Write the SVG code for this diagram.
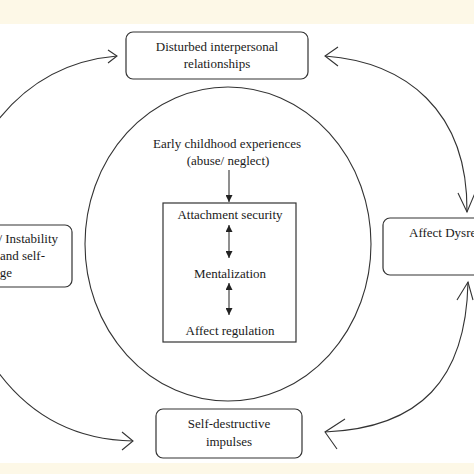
<svg xmlns="http://www.w3.org/2000/svg" width="474" height="474" viewBox="0 0 474 474">
<defs>
<style>
.bg{fill:#ffffff}
.band{fill:#fdf8e7}
.box{fill:#ffffff;stroke:#333333;stroke-width:1.2}
.ln{fill:none;stroke:#333333;stroke-width:1.1}
.t{font-family:"Liberation Serif","Times New Roman",serif;font-size:13px;fill:#1a1a1a}
.c{text-anchor:middle}
</style>
<marker id="fa" viewBox="0 0 10 10" refX="10" refY="5" markerWidth="7" markerHeight="7" markerUnits="userSpaceOnUse" orient="auto-start-reverse">
<path d="M0,0 L10,5 L0,10 Z" fill="#222222"/>
</marker>
</defs>
<rect class="bg" x="0" y="0" width="474" height="474"/>
<rect class="band" x="0" y="0" width="474" height="24"/>
<rect class="band" x="0" y="463" width="474" height="11"/>

<g id="circle">
<ellipse class="ln" cx="228" cy="244" rx="143" ry="157"/>
</g>

<g id="node-relationships">
<rect class="box" x="126" y="32" width="182" height="47" rx="7"/>
<text class="t c" x="217" y="51">Disturbed interpersonal</text>
<text class="t c" x="217" y="68">relationships</text>
</g>

<g id="node-affect-dysregulation">
<rect class="box" x="383" y="218" width="110" height="57" rx="7"/>
<text class="t" x="409" y="237">Affect Dysregulation</text>
</g>

<g id="node-identity">
<rect class="box" x="-40" y="225" width="112" height="62" rx="7"/>
<text class="t" x="58" y="243" text-anchor="end">Identity/ Instability</text>
<text class="t" x="45" y="260" text-anchor="end">and self-</text>
<text class="t" x="12" y="277" text-anchor="end">image</text>
</g>

<g id="node-self-destructive">
<rect class="box" x="156" y="409" width="146" height="49" rx="7"/>
<text class="t c" x="229" y="428">Self-destructive</text>
<text class="t c" x="229" y="446">impulses</text>
</g>

<g id="node-early-childhood">
<text class="t c" x="227" y="148">Early childhood experiences</text>
<text class="t c" x="228" y="165">(abuse/ neglect)</text>
</g>

<g id="node-core">
<rect class="box" x="163" y="203" width="133" height="139"/>
<text class="t c" x="230" y="219">Attachment security</text>
<text class="t c" x="230" y="278">Mentalization</text>
<text class="t c" x="230" y="335">Affect regulation</text>
</g>

<g id="connectors">
<path class="ln" d="M-2,120 C30,80 70,60 117,56"/>
<path class="ln" d="M108,50 L117,56 L108,63"/>
<path class="ln" d="M325,56 C405,62 468,110 467,212"/>
<path class="ln" d="M338,47 L325,56 L338,66"/>
<path class="ln" d="M458,193 L467,212 L475,193"/>
<path class="ln" d="M468,282 C466,380 420,428 325,432"/>
<path class="ln" d="M457,300 L468,282 L473,300"/>
<path class="ln" d="M345,419 L325,432 L337,449"/>
<path class="ln" d="M-2,372 C30,415 75,440 133,441"/>
<path class="ln" d="M122,432 L133,441 L122,450"/>
<line class="ln" x1="229" y1="170" x2="229" y2="202" marker-end="url(#fa)"/>
<line class="ln" x1="229" y1="225" x2="229" y2="258" marker-start="url(#fa)" marker-end="url(#fa)"/>
<line class="ln" x1="229" y1="283" x2="229" y2="315" marker-start="url(#fa)" marker-end="url(#fa)"/>
</g>
</svg>
